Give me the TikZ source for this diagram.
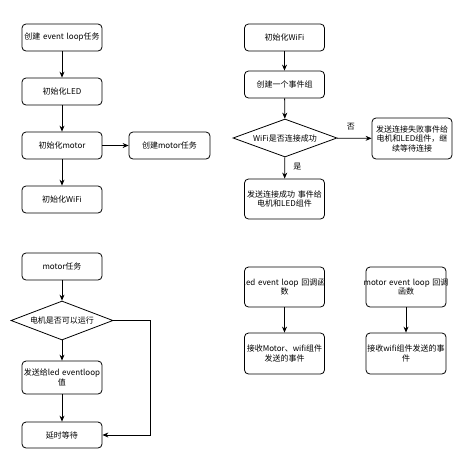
\documentclass[tikz,border=0pt]{standalone}
\usepackage{fontspec}
\setmainfont{Noto Sans CJK SC}
\usetikzlibrary{shapes.geometric,arrows.meta}

\begin{document}
\begin{tikzpicture}[x=1pt,y=-1pt,
  box/.style={draw,rounded corners=4pt,minimum width=80pt,minimum height=27pt,text width=78pt,inner sep=1pt,align=center,font=\fontsize{8}{9.5}\selectfont},
  dia/.style={draw,diamond,inner sep=0pt,font=\fontsize{8}{9.5}\selectfont},
  every path/.style={line width=0.8pt},
  >={Stealth[length=6pt,width=5pt]}]
\useasboundingbox (0,0) rectangle (474,472);
% startup flow
\node[box] (el) at (62,37.5) {创建 event loop任务}; \node[box] (led) at (62,91.5) {初始化LED};
\node[box] (mot) at (62,145.5) {初始化motor}; \node[box,minimum width=81pt] (mtask) at (169.5,145.5) {创建motor任务};
\node[box] (wifi) at (62,199.5) {初始化WiFi};
\draw[->] (el) -- (led); \draw[->] (led) -- (mot); \draw[->] (mot) -- (wifi); \draw[->] (mot) -- (mtask);
% wifi flow
\node[box] (winit) at (284.5,37.5) {初始化WiFi}; \node[box] (wgrp) at (284.5,84.5) {创建一个事件组};
\node[dia,minimum width=104pt,minimum height=38pt,label=center:{\fontsize{8}{9.5}\selectfont WiFi是否连接成功}] (wok) at (285,138) {};
\node[box,minimum height=41pt] (wfail) at (412,138.5) {发送连接失败事件给\\电机和LED组件，继\\续等待连接};
\node[box,minimum height=40pt] (wsend) at (284.5,199) {发送连接成功 事件给\\电机和LED组件};
\draw[->] (winit) -- (wgrp); \draw[->] (wgrp) -- (wok);
\draw[->] (wok) -- node[pos=0.45,right=5pt,font=\fontsize{8}{9.5}\selectfont] {是} (wsend);
\draw[->] (wok) -- node[pos=0.4,above=4pt,font=\fontsize{8}{9.5}\selectfont] {否} (wfail);
% motor task
\node[box] (mt) at (62,266.5) {motor任务};
\node[dia,minimum width=102pt,minimum height=39pt,label=center:{\fontsize{8}{9.5}\selectfont 电机是否可以运行}] (mrun) at (62,320.5) {};
\node[box,minimum height=33pt] (msend) at (62,377.5) {\makebox[\linewidth]{发送给led eventloop}\\值};
\node[box,minimum height=26pt] (mwait) at (62,435) {延时等待};
\draw[->] (mt) -- (mrun); \draw[->] (mrun) -- (msend); \draw[->] (msend) -- (mwait);
\draw[->] (mrun.east) -- ++(37,0) |- (mwait.east);
% callbacks
\node[box,minimum height=40pt] (lcb) at (284.5,287) {\makebox[\linewidth]{led event loop 回调函}\\数};
\node[box,minimum height=41pt] (lrx) at (284.5,353.5) {接收Motor、wifi组件\\发送的事件};
\node[box,minimum height=40pt] (mcb) at (406,287) {\makebox[\linewidth]{motor event loop 回调}\\函数};
\node[box,minimum height=41pt] (mrx) at (406,353.5) {接收wifi组件发送的事\\件};
\draw[->] (lcb) -- (lrx); \draw[->] (mcb) -- (mrx);
\end{tikzpicture}
\end{document}
